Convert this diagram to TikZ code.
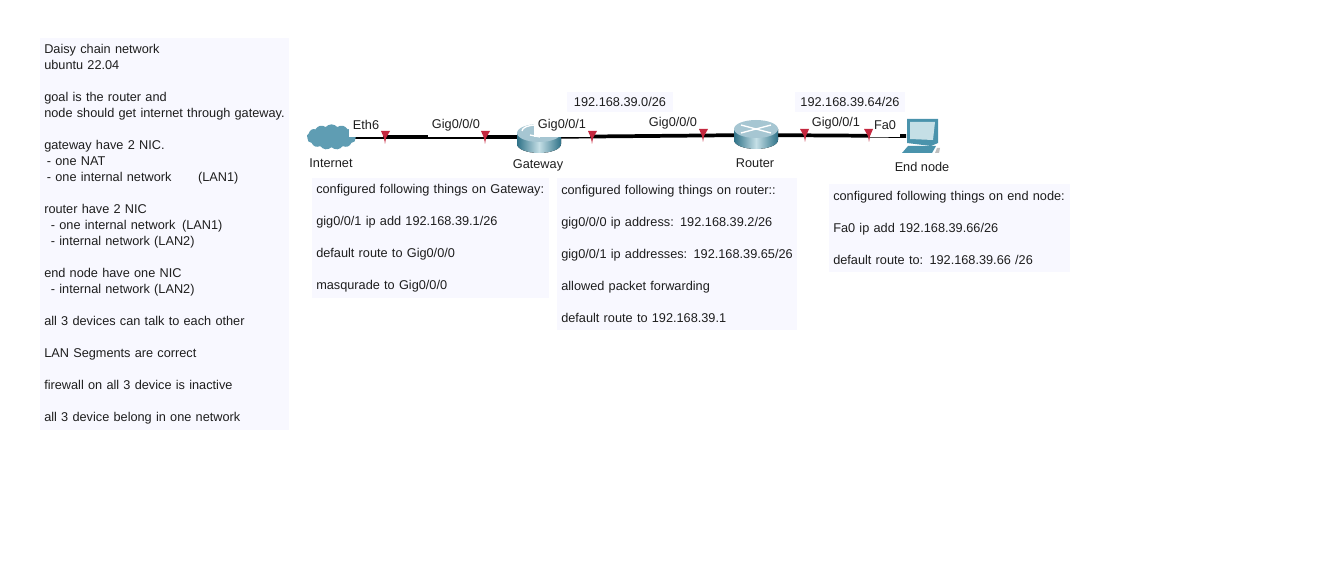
\documentclass[tikz,border=0pt]{standalone}
\usepackage{fontspec}
\setmainfont{Liberation Sans}
\usetikzlibrary{shapes.symbols}

\definecolor{panelcol}{HTML}{F8F8FF}
\definecolor{inkcol}{HTML}{1E1E1E}
\definecolor{cloudcol}{HTML}{5F9DB3}
\definecolor{tealdark}{HTML}{2F7288}
\definecolor{tealmid}{HTML}{4A93AC}
\definecolor{teallight}{HTML}{C5DFE6}
\definecolor{topcol}{HTML}{A6C6D2}
\definecolor{portcol}{HTML}{C4283F}

\tikzset{
  txt/.style={font=\fontsize{9.55}{12}\selectfont, text=inkcol},
  panel/.style={txt, fill=panelcol, align=left, anchor=north west, inner xsep=3pt, inner ysep=4.5pt, text width=#1},
  subnet/.style={txt, fill=panelcol, minimum width=79pt, minimum height=15pt, inner sep=0pt},
  linklabel/.style={txt, fill=white, minimum height=15pt, inner ysep=0pt, inner xsep=3pt},
  caption/.style={txt, inner sep=1pt},
  routerpic/.pic={
    \fill[left color=tealdark, right color=tealdark, middle color=teallight] (-22,6) -- (-22,-5) arc[start angle=180, end angle=360, x radius=22, y radius=9] -- (22,6) -- cycle;
    \fill[topcol] (0,6) ellipse [x radius=22, y radius=9];
  },
  portpic/.pic={
    \fill[portcol] (-4,6) -- (5,6) -- (1,-1) -- (0,-7) -- (-1,-1) -- cycle;
  },
  pcpic/.pic={
    \fill[tealmid] (-13,17) -- (18,17) -- (18,-7) -- (11,-10) -- (-13,-7) -- cycle;
    \fill[teallight] (-10,14) -- (15,14) -- (13,-4) -- (-10,-3) -- cycle;
    \fill[tealmid] (-18,-17) -- (12,-17) -- (16,-10) -- (-12,-10) -- cycle;
    \fill[gray!50] (15,-17) -- (19,-17) -- (20,-12) -- (17,-12) -- cycle;
  }
}

\begin{document}
\begin{tikzpicture}[x=0.75pt, y=0.75pt]
  \useasboundingbox (0,0) rectangle (1341,-563);

  % text panels
  \node[panel=180.75pt] (notes) at (40,-38) {Daisy chain network\\
    ubuntu 22.04\\[12pt]
    goal is the router and\\
    node should get internet through gateway.\\[12pt]
    gateway have 2 NIC.\\
    \hspace*{2pt}- one NAT\\
    \hspace*{2pt}- one internal network\hspace*{20pt}(LAN1)\\[12pt]
    router have 2 NIC\\
    \hspace*{5pt}- one internal network\hspace*{5pt}(LAN1)\\
    \hspace*{5pt}- internal network (LAN2)\\[12pt]
    end node have one NIC\\
    \hspace*{5pt}- internal network (LAN2)\\[12pt]
    all 3 devices can talk to each other\\[12pt]
    LAN Segments are correct\\[12pt]
    firewall on all 3 device is inactive\\[12pt]
    all 3 device belong in one network};
  \node[panel=171.75pt] (gatewaynotes) at (312,-178) {configured following things on Gateway:\\[12pt]
    gig0/0/1 ip add 192.168.39.1/26\\[12pt]
    default route to Gig0/0/0\\[12pt]
    masqurade to Gig0/0/0};
  \node[panel=174pt, minimum height=114pt] (routernotes) at (557,-178) {configured following things on router::\\[12pt]
    gig0/0/0 ip address: 192.168.39.2/26\\[12pt]
    gig0/0/1 ip addresses: 192.168.39.65/26\\[12pt]
    allowed packet forwarding\\[12pt]
    default route to 192.168.39.1};
  \node[panel=174.75pt, minimum height=66pt] (endnotes) at (829,-184) {configured following things on end node:\\[12pt]
    Fa0 ip add 192.168.39.66/26\\[12pt]
    default route to: 192.168.39.66 /26};

  \node[subnet] (lanone) at (620,-102) {192.168.39.0/26};
  \node[subnet, minimum width=83pt] (lantwo) at (850,-102) {192.168.39.64/26};

  % devices and link
  \coordinate (internet) at (332,-137);
  \coordinate (gateway) at (539,-137);
  \coordinate (router) at (756,-135);
  \coordinate (endnode) at (906,-136);
  \draw[line width=2.8pt] (internet) -- (gateway) -- (router) -- (endnode);

  \node[cloud, cloud puffs=13, cloud puff arc=100, aspect=2, fill=cloudcol, inner sep=0pt, minimum width=37pt, minimum height=19pt] (cloudicon) at (331.5,-137) {};
  \pic at (539,-139) {routerpic};
  \draw[white, line width=1pt] (522,-131) arc[start angle=180, end angle=60, x radius=14, y radius=6];
  \draw[white, line width=1pt] (530,-135) -- (540,-137);
  \pic at (756,-135) {routerpic};
  \foreach \ax/\ay/\bx/\by in {741/-125/771/-133, 741/-133/771/-125}
    \draw[white, line width=1pt] (\ax,\ay) -- (\bx,\by);
  \pic at (920,-136) {pcpic};

  % white box of each label cuts into the link
  \node[linklabel, minimum height=18.5pt] (ethsix) at (366,-125) {Eth6};
  \node[linklabel, minimum height=18.5pt] (gigleft) at (456,-125) {Gig0/0/0};
  \node[linklabel, minimum height=18.5pt] (gigmid) at (562,-125) {Gig0/0/1};
  \node[linklabel] (gigrtr) at (673,-123) {Gig0/0/0};
  \node[linklabel] (gigright) at (836,-123) {Gig0/0/1};
  \node[linklabel, minimum height=18.5pt] (fazero) at (885,-125) {Fa0};

  \node[caption] (internetcap) at (331,-163) {Internet};
  \node[caption] (gatewaycap) at (538,-165) {Gateway};
  \node[caption] (routercap) at (755,-163) {Router};
  \node[caption] (endcap) at (922,-167) {End node};

  \foreach \px/\py/\sx in {385/137/1, 485/137/1, 592/137/1, 703/135/1, 805/135/-1, 869/135/-1}
    \pic[xscale=\sx] at (\px,-\py) {portpic};
\end{tikzpicture}
\end{document}
